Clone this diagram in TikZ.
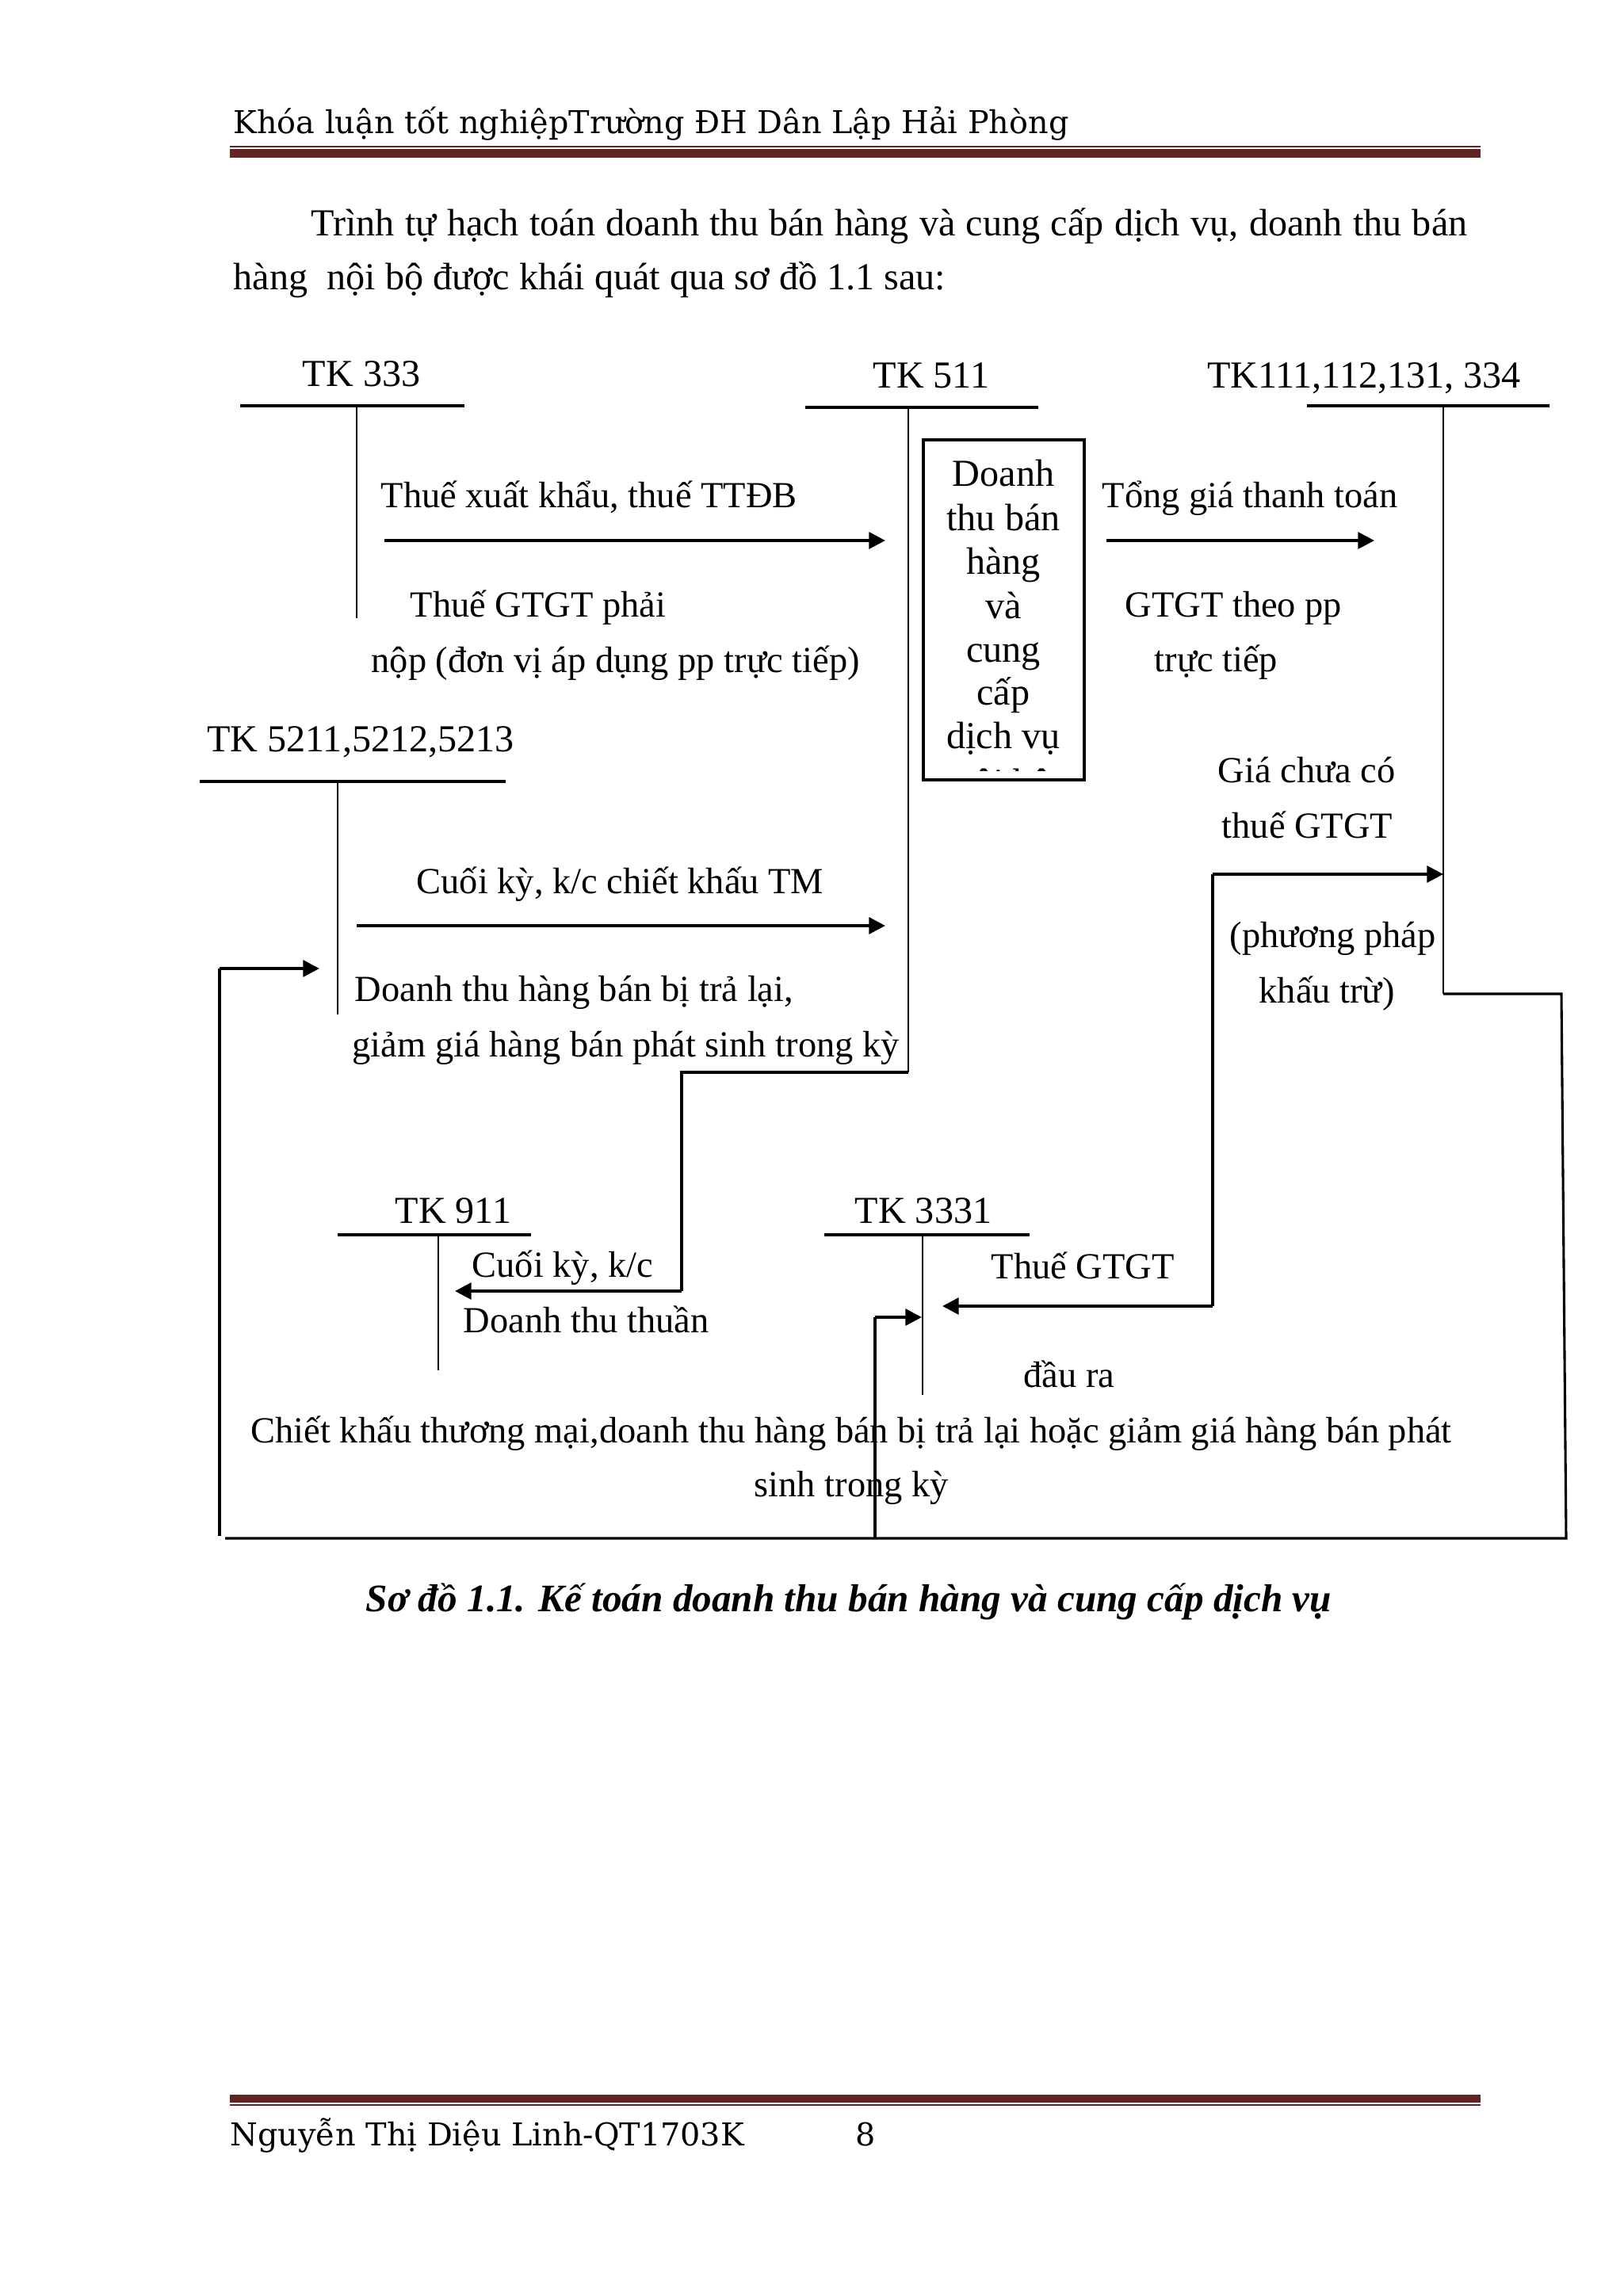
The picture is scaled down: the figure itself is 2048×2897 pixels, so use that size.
\documentclass[tikz,border=0pt]{standalone}
\usepackage{fontspec}
\setmainfont{Liberation Serif}
\newfontfamily\hdrfont{DejaVu Serif}
\usetikzlibrary{arrows.meta}
\definecolor{hdrred}{HTML}{622423}
\begin{document}
\begin{tikzpicture}[x=0.29067pt,y=-0.29067pt,
  lbl/.style={anchor=base west, inner sep=0pt, font=\fontsize{13.5}{16}\selectfont},
  lblc/.style={anchor=base, inner sep=0pt, font=\fontsize{14}{16}\selectfont},
  para/.style={anchor=base west, inner sep=0pt, font=\fontsize{14}{16}\selectfont},
  hdr/.style={anchor=base west, inner sep=0pt, font=\hdrfont\fontsize{11.55}{13}\selectfont},
  tbar/.style={line width=1.3pt},
  tleg/.style={line width=0.8pt},
  conn/.style={line width=0.9pt},
  arr/.style={line width=1.2pt, -{Triangle[length=6pt,width=6pt]}},
  boxst/.style={draw, line width=1pt}]
\useasboundingbox (0,0) rectangle (2048,2897);
\fill[white] (0,0) rectangle (2048,2897);

% header and footer
\node[hdr] (head) at (294,168) {Khóa luận tốt nghiệpTrường ĐH Dân Lập Hải Phòng};
\fill[hdrred] (290,184.3) rectangle (1868,186.3);
\fill[hdrred] (290,188.3) rectangle (1868,199);
\fill[hdrred] (290,2642.7) rectangle (1868,2652.7);
\fill[hdrred] (290,2655) rectangle (1868,2657);
\node[hdr] (foot) at (290,2707) {Nguyễn Thị Diệu Linh-QT1703K};
\node[hdr] (pageno) at (1079,2707) {8};

% paragraph
\node[para] (p1) at (392,297) {\makebox[424pt][s]{Trình tự hạch toán doanh thu bán hàng và cung cấp dịch vụ, doanh thu bán}};
\node[para] (p2) at (294,365) {hàng\ \ nội bộ được khái quát qua sơ đồ 1.1 sau:};

% T-accounts
\node[lblc] (t333) at (456,487) {TK 333};
\coordinate (h333a) at (303,512); \coordinate (h333b) at (586,512);
\coordinate (v333a) at (450,512); \coordinate (v333b) at (450,780);
\draw[tbar] (h333a) -- (h333b);
\draw[tleg] (v333a) -- (v333b);

\node[lblc] (t511) at (1175,489) {TK 511};
\coordinate (h511a) at (1016,514); \coordinate (h511b) at (1310,514);
\coordinate (v511a) at (1146,514); \coordinate (v511b) at (1146,1353);
\draw[tbar] (h511a) -- (h511b);
\draw[tleg] (v511a) -- (v511b);

\node[lblc] (t111) at (1721,489) {TK111,112,131, 334};
\coordinate (h111a) at (1649,512); \coordinate (h111b) at (1955,512);
\coordinate (v111a) at (1821,512); \coordinate (v111b) at (1821,1254);
\draw[tbar] (h111a) -- (h111b);
\draw[tleg] (v111a) -- (v111b);

\node[lblc] (t521) at (455,948) {TK 5211,5212,5213};
\coordinate (h521a) at (252,986); \coordinate (h521b) at (638,986);
\coordinate (v521a) at (426,986); \coordinate (v521b) at (426,1280);
\draw[tbar] (h521a) -- (h521b);
\draw[tleg] (v521a) -- (v521b);

\node[lblc] (t911) at (572,1543) {TK 911};
\coordinate (h911a) at (426,1558); \coordinate (h911b) at (670,1558);
\coordinate (v911a) at (553,1558); \coordinate (v911b) at (553,1729);
\draw[tbar] (h911a) -- (h911b);
\draw[tleg] (v911a) -- (v911b);

\node[lblc] (t3331) at (1165,1543) {TK 3331};
\coordinate (h3331a) at (1040,1558); \coordinate (h3331b) at (1299,1558);
\coordinate (v3331a) at (1164,1558); \coordinate (v3331b) at (1164,1760);
\draw[tbar] (h3331a) -- (h3331b);
\draw[tleg] (v3331a) -- (v3331b);

% box (text overflowing the box is clipped)
\begin{scope}
\clip (1167,557) rectangle (1366,972);
\node[lblc] (b1) at (1266,613) {Doanh};
\node[lblc] (b2) at (1266,669) {thu bán};
\node[lblc] (b3) at (1266,724) {hàng};
\node[lblc] (b4) at (1266,780) {và};
\node[lblc] (b5) at (1266,835) {cung};
\node[lblc] (b6) at (1266,889) {cấp};
\node[lblc] (b7) at (1266,944) {dịch vụ};
\node[lblc] (b8) at (1266,1003) {nội bộ};
\end{scope}
\draw[boxst] (1165,555) rectangle (1368,984);

% arrows and labels
\coordinate (a1s) at (485,682); \coordinate (a1e) at (1117,682);
\draw[arr] (a1s) -- (a1e);
\node[lbl] (l1) at (480,640) {Thuế xuất khẩu, thuế TTĐB};
\node[lbl] (l2) at (517,778) {Thuế GTGT phải};
\node[lbl] (l3) at (468,848) {nộp (đơn vị áp dụng pp trực tiếp)};

\coordinate (a2s) at (1396,682); \coordinate (a2e) at (1734,682);
\draw[arr] (a2s) -- (a2e);
\node[lbl] (l4) at (1390,640) {Tổng giá thanh toán};
\node[lbl] (l5) at (1419,778) {GTGT theo pp};
\node[lbl] (l6) at (1456,847) {trực tiếp};

\coordinate (a3s) at (450,1168); \coordinate (a3e) at (1117,1168);
\draw[arr] (a3s) -- (a3e);
\node[lbl] (l7) at (525,1127) {Cuối kỳ, k/c chiết khấu TM};
\node[lbl] (l8) at (447,1263) {Doanh thu hàng bán bị trả lại,};
\node[lbl] (l9) at (444,1333) {giảm giá hàng bán phát sinh trong kỳ};

% TK511 -> TK911
\coordinate (c511a) at (860,1353); \coordinate (c511b) at (860,1629);
\coordinate (a911e) at (574,1629);
\draw[conn] (v511b) -- (c511a) -- (c511b);
\draw[arr] (c511b) -- (a911e);
\node[lbl] (l10) at (595,1611) {Cuối kỳ, k/c};
\node[lbl] (l11) at (584,1681) {Doanh thu thuần};

% -> TK111 and -> TK3331
\coordinate (g1) at (1530,1103); \coordinate (g2) at (1821,1103);
\coordinate (g3) at (1530,1648); \coordinate (g4) at (1189,1648);
\draw[arr] (g1) -- (g2);
\draw[conn] (g1) -- (g3);
\draw[arr] (g3) -- (g4);
\node[lbl] (l12) at (1536,987) {Giá chưa có};
\node[lbl] (l13) at (1541,1057) {thuế GTGT};
\node[lbl] (l14) at (1551,1195) {(phương pháp};
\node[lbl] (l15) at (1588,1265) {khấu trừ)};
\node[lbl] (l16) at (1250,1613) {Thuế GTGT};
\node[lbl] (l17) at (1291,1750) {đầu ra};

% bottom loop
\coordinate (r1) at (1970,1254); \coordinate (r2) at (1976,1941);
\coordinate (r3) at (284,1941);
\coordinate (k1) at (1104,1941); \coordinate (k2) at (1104,1662); \coordinate (k3) at (1163,1662);
\coordinate (m1) at (277,1938); \coordinate (m2) at (277,1222); \coordinate (m3) at (403,1222);
\draw[conn] (v111b) -- (r1) -- (r2) -- (r3);
\draw[conn] (k1) -- (k2);
\draw[arr] (k2) -- (k3);
\draw[conn] (m1) -- (m2);
\draw[arr] (m2) -- (m3);

\node[lbl] (l18) at (316,1820) {Chiết khấu thương mại,doanh thu hàng bán bị trả lại hoặc giảm giá hàng bán phát};
\node[lbl] (l19) at (951,1888) {sinh trong kỳ};

% caption
\node[anchor=base, inner sep=0pt, font=\fontsize{14.3}{16}\selectfont\bfseries\itshape] (cap) at (1071,2033) {Sơ đồ 1.1. Kế toán doanh thu bán hàng và cung cấp dịch vụ};
\end{tikzpicture}
\end{document}
